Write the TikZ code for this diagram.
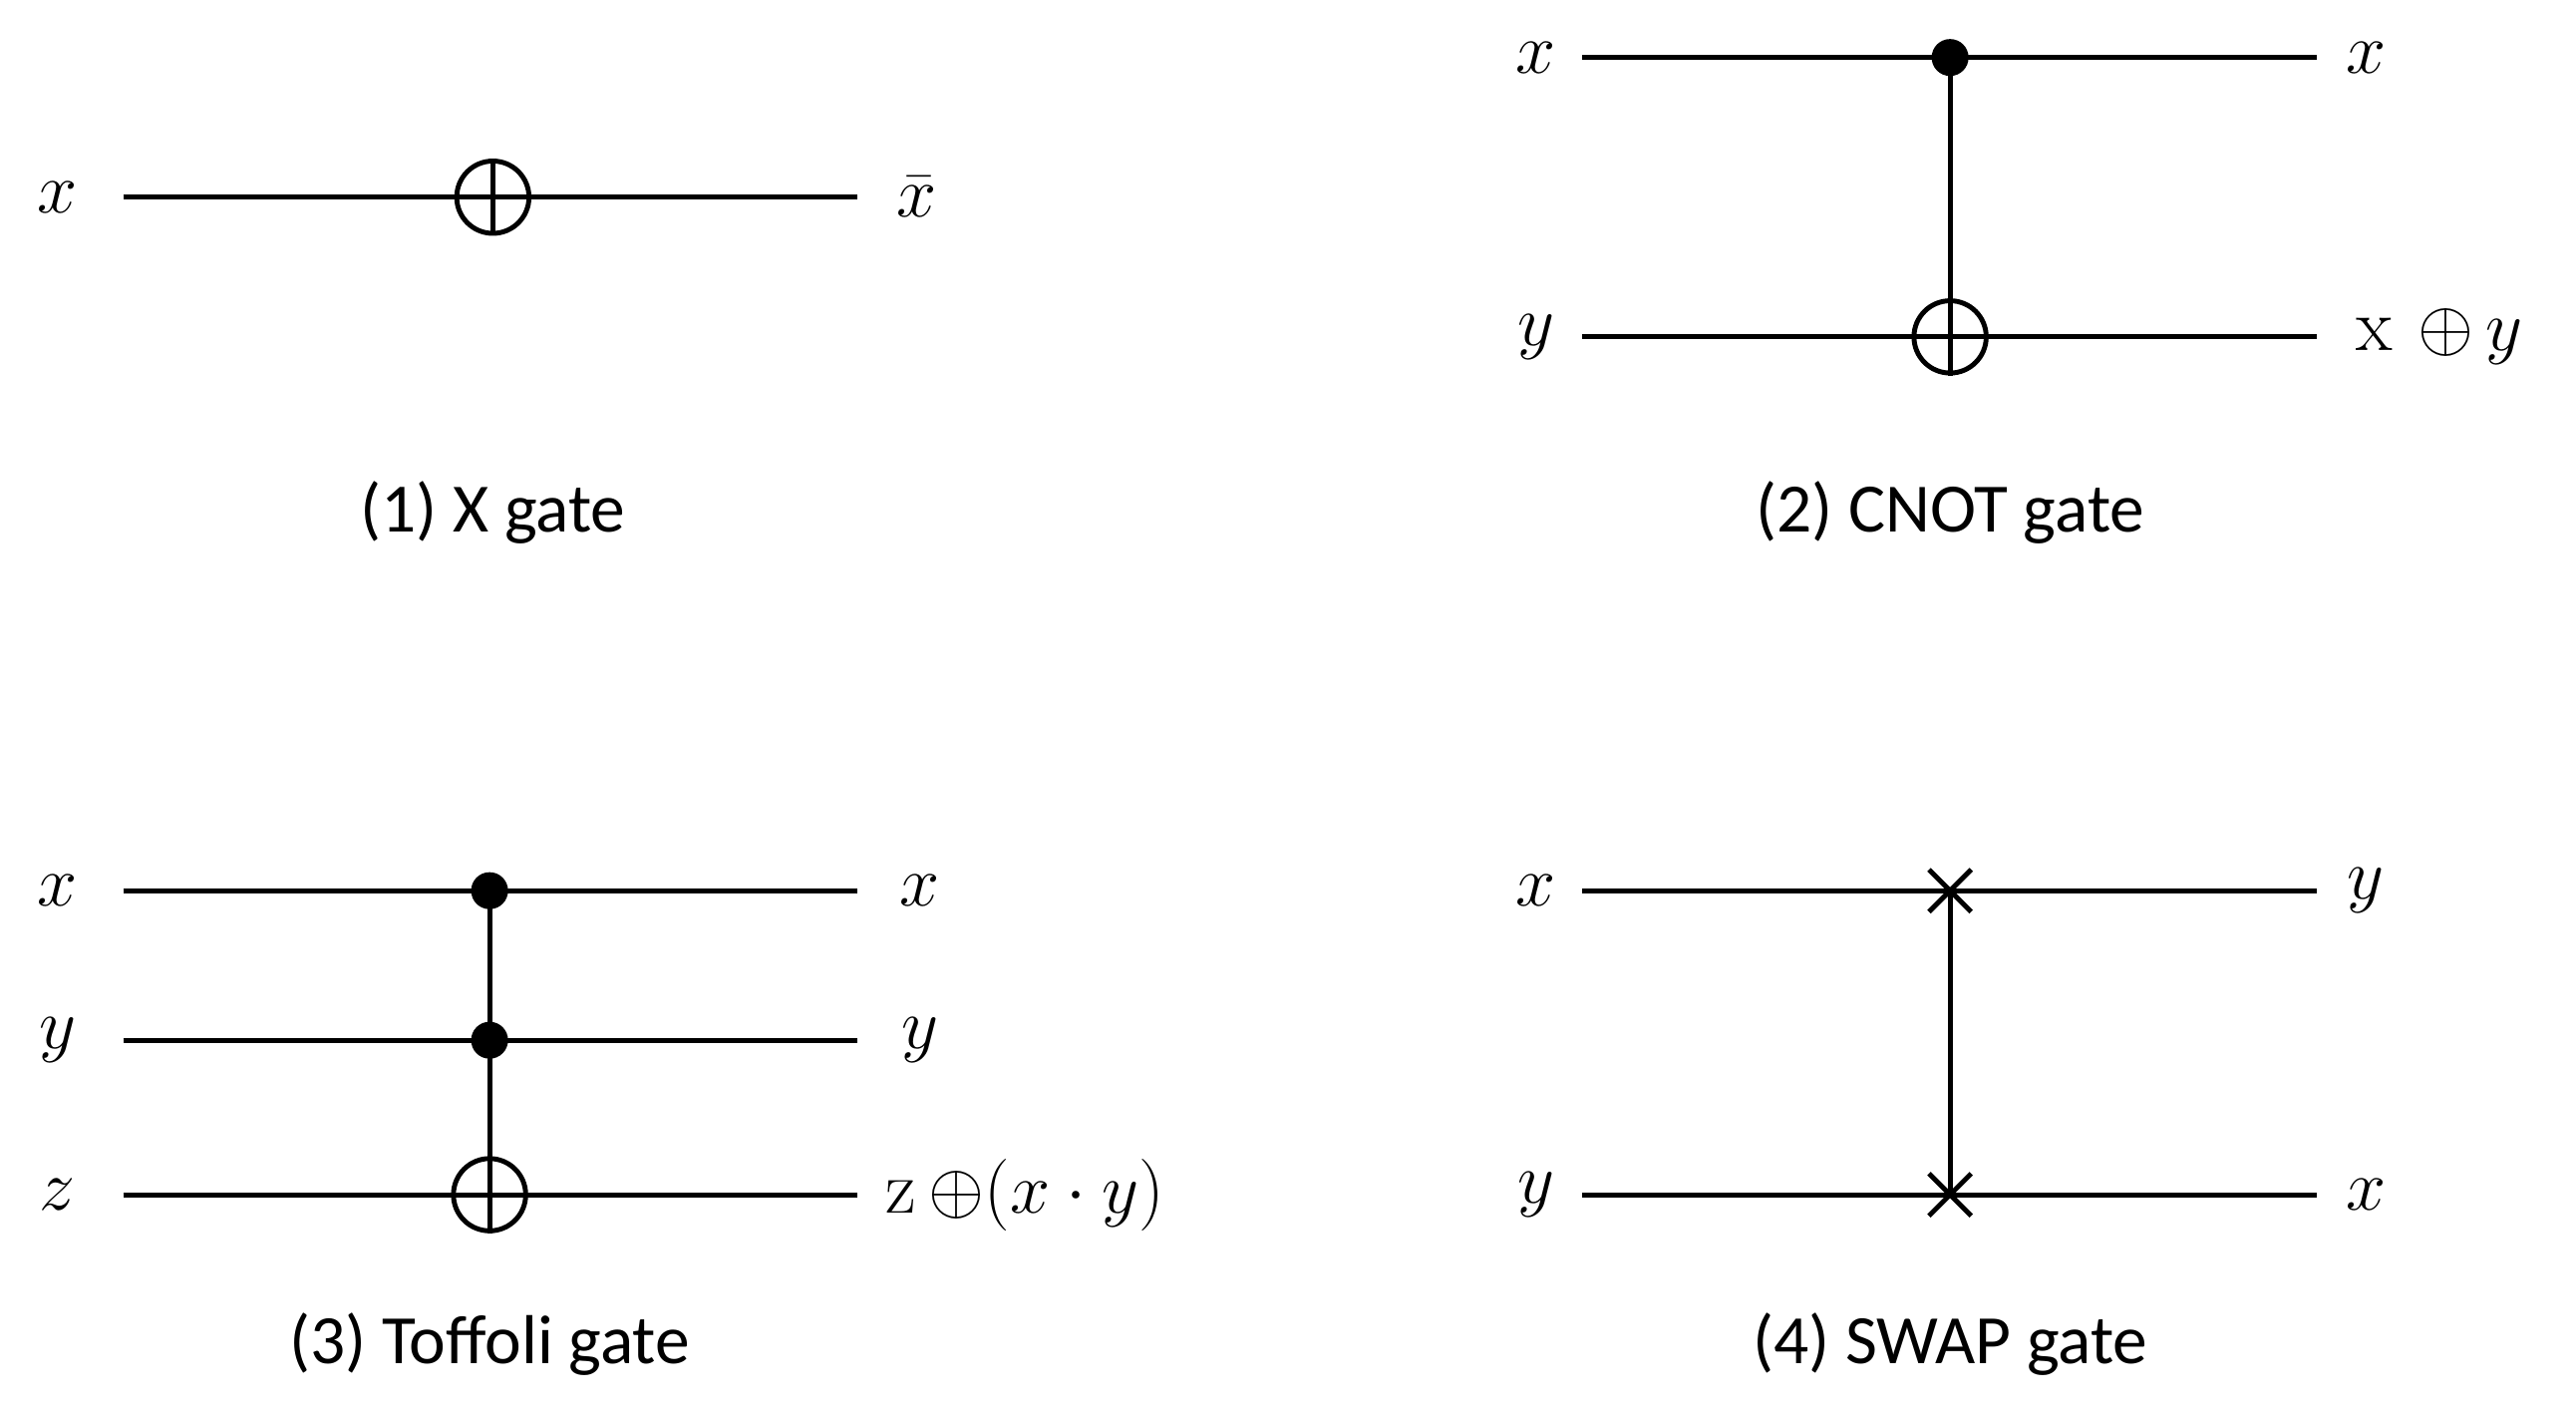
\documentclass[tikz,border=0pt]{standalone}
\usepackage{fontspec}
\setsansfont{Carlito}
\begin{document}
\begin{tikzpicture}[x=0.02cm,y=-0.02cm,
  wire/.style={line width=1.7pt},
  lbl/.style={font=\fontsize{26}{30}\selectfont},
  capt/.style={font=\sffamily\fontsize{24}{28}\selectfont},
  ctrl/.style={circle,fill=black,inner sep=0pt,minimum size=0.45cm},
  targ/.style={circle,draw,line width=1.7pt,inner sep=0pt,minimum size=0.88cm},
  swp/.style={inner sep=0pt,minimum size=0.5cm}]
\useasboundingbox (0,0) rectangle (1568,862);
% X gate
\coordinate (a1) at (75,120); \coordinate (a2) at (522,120);
\draw[wire] (a1) -- (a2);
\node[targ] (ta) at (300,120) {};
\node[lbl] (ia) at (35,120) {$x$};
\node[lbl] (oa) at (558,120) {$\bar{x}$};
\node[capt] (ca) at (300,312) {(1) X gate};
% CNOT
\coordinate (b1) at (963,35); \coordinate (b2) at (1410,35);
\coordinate (b3) at (963,205); \coordinate (b4) at (1410,205);
\draw[wire] (b1) -- (b2); \draw[wire] (b3) -- (b4);
\node[ctrl] (cb) at (1187,35) {};
\node[targ] (tb) at (1187,205) {};
\draw[wire] (cb.center) -- (tb.south);
\node[lbl] (ib1) at (935,35) {$x$};
\node[lbl] (ib2) at (935,205) {$y$};
\node[lbl] (ob1) at (1440,35) {$x$};
\node[lbl,anchor=west] (ob2) at (1428,205) {x\,\,$\oplus\,y$};
\node[capt] (cb0) at (1187,312) {(2) CNOT gate};
% Toffoli
\foreach \n/\yy in {1/542,2/633,3/727}{
  \coordinate (cl\n) at (75,\yy); \coordinate (cr\n) at (522,\yy);
  \draw[wire] (cl\n) -- (cr\n);}
\node[ctrl] (c1) at (298,542) {};
\node[ctrl] (c2) at (298,633) {};
\node[targ] (tc) at (298,727) {};
\draw[wire] (c1.center) -- (tc.south);
\node[lbl] (ic1) at (35,542) {$x$};
\node[lbl] (ic2) at (35,633) {$y$};
\node[lbl] (ic3) at (35,727) {$z$};
\node[lbl] (oc1) at (560,542) {$x$};
\node[lbl] (oc2) at (560,633) {$y$};
\node[lbl,anchor=west] (oc3) at (533,727) {z\,$\oplus(x\cdot y)$};
\node[capt] (cc) at (298,818) {(3) Toffoli gate};
% vertical bars of the X-gate target
\draw[wire] (ta.north) -- (ta.south);
% SWAP
\coordinate (d1) at (963,542); \coordinate (d2) at (1410,542);
\coordinate (d3) at (963,727); \coordinate (d4) at (1410,727);
\draw[wire] (d1) -- (d2); \draw[wire] (d3) -- (d4);
\node[swp] (s1) at (1187,542) {};
\node[swp] (s2) at (1187,727) {};
\draw[wire] (s1.center) -- (s2.center);
\foreach \s in {s1,s2}{
  \draw[wire] (\s.north west) -- (\s.south east);
  \draw[wire] (\s.north east) -- (\s.south west);}
\node[lbl] (id1) at (935,542) {$x$};
\node[lbl] (id2) at (935,727) {$y$};
\node[lbl] (od1) at (1440,542) {$y$};
\node[lbl] (od2) at (1440,727) {$x$};
\node[capt] (cd) at (1187,818) {(4) SWAP gate};
\end{tikzpicture}
\end{document}
